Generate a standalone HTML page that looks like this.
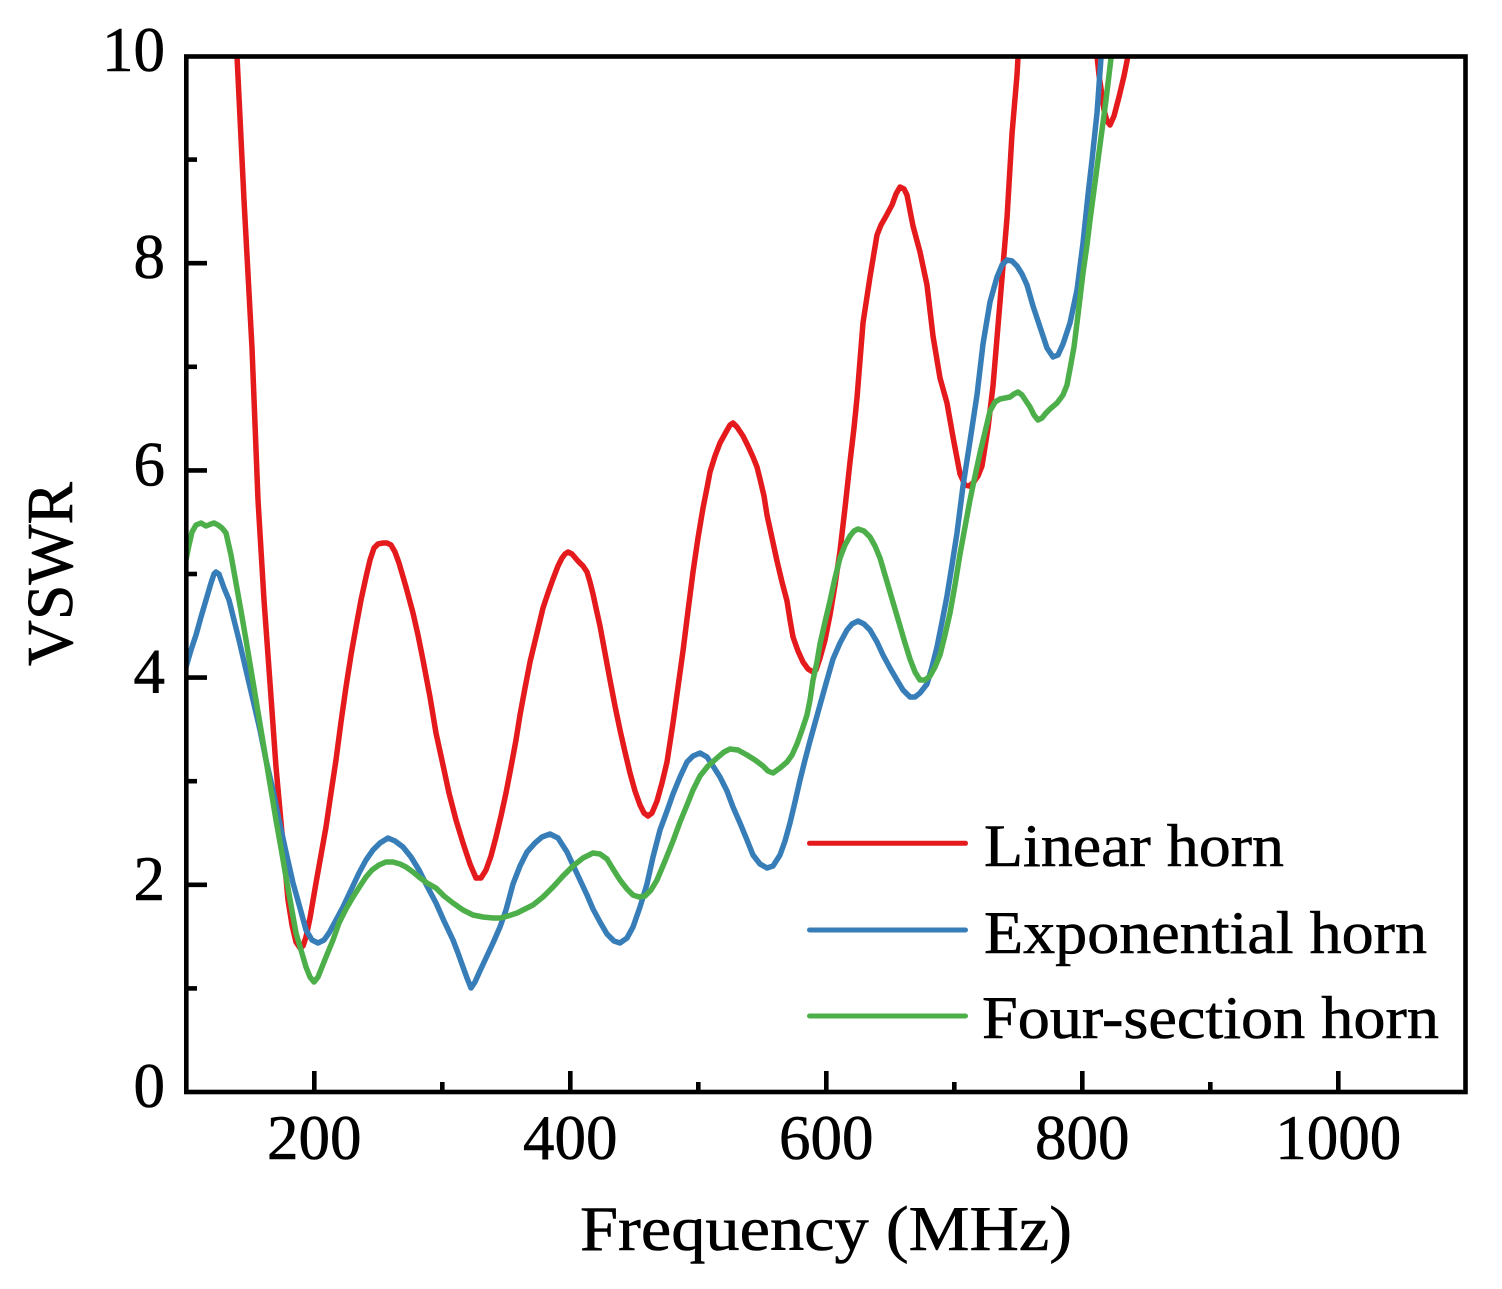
<!DOCTYPE html>
<html>
<head>
<meta charset="utf-8">
<style>
  html, body { margin: 0; padding: 0; background: #ffffff; }
  svg { display: block; }
  text { font-family: "Liberation Serif", "DejaVu Serif", serif; fill: #000; stroke: #000; stroke-width: 0.6; }
</style>
</head>
<body>
<svg width="1502" height="1289" viewBox="0 0 1502 1289" xmlns="http://www.w3.org/2000/svg">
  <rect x="0" y="0" width="1502" height="1289" fill="#ffffff"/>
  <defs>
    <clipPath id="plotclip">
      <rect x="186.3" y="56.5" width="1280" height="1035.5"/>
    </clipPath>
  </defs>

  <g clip-path="url(#plotclip)" fill="none" stroke-width="5.5" stroke-linejoin="round" stroke-linecap="round">
    <!-- Linear horn (red) -->
    <polyline stroke="#e41a1c" points="
      236,40 237,56 244,200 252,348 258,500 264,600 270,683 276,767 282,833 288,900 292,925 296,942 300,948 303,946 306,937 310,918
      316,883 321,855 326,827 331,793 336,760 341,722 346,687 351,655 356,627 361,600 366,577 370,560 374,548 378,544 383,543 387,543
      391,545 395,552 399,563 406,587 413,613 418,635 423,660 430,697 436,733 443,765 449,793 456,820 463,843 470,864 476,878 481,878
      486,870 491,856 496,837 501,816 506,793 511,767 516,740 520,715 525,688 530,662 537,633 543,608 548,593 553,579 558,566 562,558
      565,554 568,552 572,554 578,561 583,566 587,572 590,582 593,594 596,608 600,626 605,653 610,680 615,706 620,730 625,752 630,773
      635,791 640,805 644,813 648,816 652,813 657,801 662,783 667,762 673,723 678,687 683,651 688,611 693,572 698,538 703,508 707,488
      710,472 715,456 720,443 726,432 730,425 733,423 737,427 743,436 748,446 753,457 757,467 760,479 764,496 767,515 772,538 777,561
      782,582 787,601 790,620 793,637 798,651 803,662 808,669 813,672 816,670 820,658 825,640 830,615 835,585 840,551 845,508 850,462
      854,428 857,398 863,323 870,277 877,235 881,225 885,218 892,205 896,194 900,187 904,189 907,195 913,226 920,252 927,285 933,336
      940,378 947,403 953,437 960,474 965,485 969,486 973,483 978,476 982,466 988,428 993,386 1000,302 1007,218 1012,134 1017,75 1019,40"/>
    <polyline stroke="#e41a1c" points="
      1096,40 1097,56 1099,75 1102,95 1104,110 1107,121 1110,125 1114,116 1119,97 1124,76 1128,56 1130,40"/>

    <!-- Exponential horn (blue) -->
    <polyline stroke="#377eb8" points="
      186,667 191,650 196,635 201,617 206,600 211,583 214,574 216,572 219,574 224,588 229,600 234,620 239,640 246,670 253,700 260,730
      266,760 273,790 279,820 286,852 293,883 300,908 306,930 312,940 318,943 324,940 329,933 336,920 343,907 351,890 359,873 366,860
      373,850 380,843 388,838 395,841 403,847 411,857 419,870 427,886 436,903 444,921 453,940 458,953 463,967 467,978 471,988 475,982
      479,973 486,958 493,943 500,927 506,910 513,884 520,866 527,852 535,843 542,837 550,834 558,838 567,852 573,865 580,880 587,895
      593,909 600,922 607,934 614,941 620,943 627,938 633,927 640,907 647,884 653,857 660,830 667,811 673,794 680,777 687,762 693,756
      700,753 707,757 713,766 720,777 727,791 733,807 740,823 747,840 753,855 760,864 767,868 773,866 780,855 785,841 790,823 795,802
      800,780 805,760 810,741 815,723 820,705 827,680 833,659 840,643 847,630 852,624 858,621 864,624 870,630 877,642 883,655 890,668
      897,680 903,690 910,697 915,697 920,693 927,684 932,667 937,647 942,622 947,596 952,565 957,533 963,486 970,441 977,395 983,344
      990,302 997,277 1002,265 1007,260 1012,261 1017,266 1022,274 1027,285 1033,306 1040,327 1047,348 1053,357 1058,355 1063,344
      1070,323 1077,290 1083,243 1088,195 1092,160 1097,113 1101,58 1102,40"/>

    <!-- Four-section horn (green) -->
    <polyline stroke="#4daf4a" points="
      186,560 189,545 192,532 196,525 201,523 206,526 211,524 214,523 218,525 222,528 226,533 231,555 236,583 241,611 246,640 251,670
      256,700 261,730 266,760 271,790 276,820 281,848 286,877 291,905 296,933 301,950 306,967 310,977 314,982 318,977 322,967 326,957
      333,940 339,923 346,909 353,897 360,886 366,877 372,870 379,865 386,862 393,862 400,864 406,867 413,872 419,877 427,883 436,888
      444,896 453,903 463,910 473,915 483,917 493,918 500,918 508,916 517,913 525,909 533,905 543,897 553,887 563,876 573,866 583,858
      593,853 600,854 607,859 613,869 620,880 627,889 633,895 639,897 645,896 651,890 657,880 665,861 673,841 680,822 687,805 693,790
      700,776 708,766 717,758 724,752 730,749 738,750 747,755 755,760 763,766 768,771 773,773 780,768 787,762 792,755 797,744 802,730
      807,715 810,700 813,680 817,662 820,644 825,622 830,601 835,578 840,558 845,545 850,536 854,531 858,529 864,531 870,537 875,546
      880,558 885,575 890,592 895,609 900,626 905,643 910,659 915,672 920,680 925,680 930,676 935,667 940,655 945,635 950,613 955,585
      960,554 965,527 970,500 975,476 980,453 985,432 990,411 995,402 1000,399 1005,398 1010,397 1014,394 1018,392 1022,395 1026,401
      1030,407 1034,415 1038,420 1042,418 1046,413 1050,409 1057,403 1063,395 1067,385 1070,369 1074,347 1077,323 1080,298 1083,273
      1087,245 1090,220 1094,190 1098,160 1102,130 1106,100 1109,75 1111,58 1112,40"/>
  </g>

  <!-- Frame -->
  <rect x="186.3" y="56.5" width="1279.2" height="1035.5" fill="none" stroke="#000" stroke-width="4.6"/>

  <!-- X ticks -->
  <g stroke="#000" stroke-width="4.6">
    <line x1="314.3" y1="1092" x2="314.3" y2="1071"/>
    <line x1="570.3" y1="1092" x2="570.3" y2="1071"/>
    <line x1="826.3" y1="1092" x2="826.3" y2="1071"/>
    <line x1="1082.3" y1="1092" x2="1082.3" y2="1071"/>
    <line x1="1338.3" y1="1092" x2="1338.3" y2="1071"/>
    <line x1="442.3" y1="1092" x2="442.3" y2="1082"/>
    <line x1="698.3" y1="1092" x2="698.3" y2="1082"/>
    <line x1="954.3" y1="1092" x2="954.3" y2="1082"/>
    <line x1="1210.3" y1="1092" x2="1210.3" y2="1082"/>
  </g>

  <!-- Y ticks -->
  <g stroke="#000" stroke-width="4.6">
    <line x1="186" y1="884.8" x2="207" y2="884.8"/>
    <line x1="186" y1="677.6" x2="207" y2="677.6"/>
    <line x1="186" y1="470.4" x2="207" y2="470.4"/>
    <line x1="186" y1="263.2" x2="207" y2="263.2"/>
    <line x1="186" y1="988.4" x2="197" y2="988.4"/>
    <line x1="186" y1="781.2" x2="197" y2="781.2"/>
    <line x1="186" y1="574" x2="197" y2="574"/>
    <line x1="186" y1="366.8" x2="197" y2="366.8"/>
    <line x1="186" y1="159.6" x2="197" y2="159.6"/>
  </g>

  <!-- Y tick labels -->
  <g font-size="63" text-anchor="end">
    <text x="165" y="1107">0</text>
    <text x="165" y="900">2</text>
    <text x="165" y="692.6">4</text>
    <text x="165" y="485.4">6</text>
    <text x="165" y="278.2">8</text>
    <text x="165" y="71">10</text>
  </g>

  <!-- X tick labels -->
  <g font-size="63" text-anchor="middle">
    <text x="314.3" y="1159">200</text>
    <text x="570.3" y="1159">400</text>
    <text x="826.3" y="1159">600</text>
    <text x="1082.3" y="1159">800</text>
    <text x="1338.3" y="1159">1000</text>
  </g>

  <!-- Axis titles -->
  <text x="580" y="1250" font-size="64" textLength="492" lengthAdjust="spacingAndGlyphs">Frequency (MHz)</text>
  <text transform="rotate(-90)" x="-666" y="72" font-size="66" textLength="184" lengthAdjust="spacingAndGlyphs">VSWR</text>

  <!-- Legend -->
  <g stroke-width="5" stroke-linecap="round">
    <line x1="809.5" y1="843.3" x2="965.5" y2="843.3" stroke="#e41a1c"/>
    <line x1="809.5" y1="930" x2="965.5" y2="930" stroke="#377eb8"/>
    <line x1="809.5" y1="1016" x2="965.5" y2="1016" stroke="#4daf4a"/>
  </g>
  <g font-size="60">
    <text x="984" y="866" textLength="300" lengthAdjust="spacingAndGlyphs">Linear horn</text>
    <text x="984" y="953" textLength="443" lengthAdjust="spacingAndGlyphs">Exponential horn</text>
    <text x="982" y="1038" textLength="457" lengthAdjust="spacingAndGlyphs">Four-section horn</text>
  </g>
</svg>
</body>
</html>
